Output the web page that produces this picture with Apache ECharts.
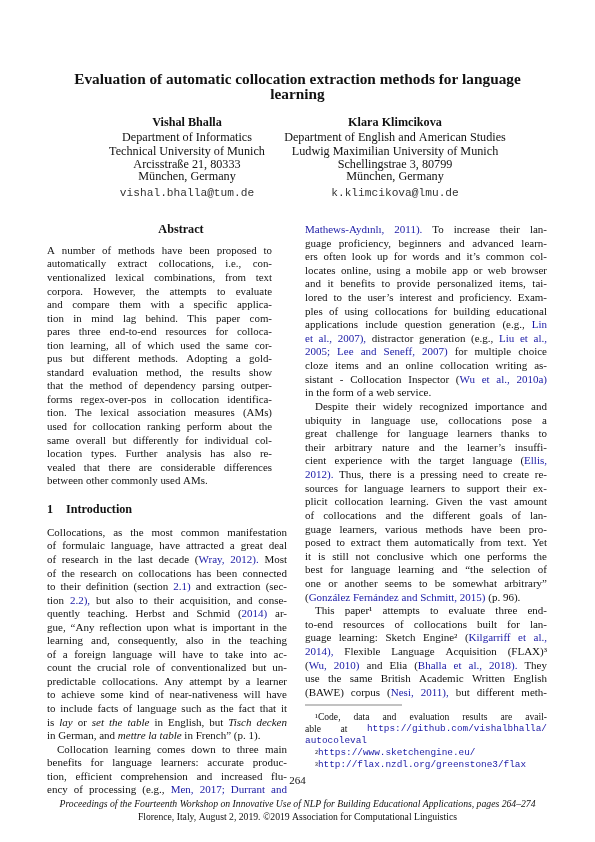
<!DOCTYPE html>
<html><head><meta charset="utf-8">
<script src="https://cdn.jsdelivr.net/npm/echarts@6/dist/echarts.min.js"></script>
<style>html,body{margin:0;padding:0;background:#fff}#c{width:595px;height:842px}</style>
</head><body><div id="c"></div>
<script>
const titleLines = ["Evaluation of automatic collocation extraction methods for language","learning"];
const author1 = ["Vishal Bhalla","Department of Informatics","Technical University of Munich","Arcisstraße 21, 80333","München, Germany","vishal.bhalla@tum.de"];
const author2 = ["Klara Klimcikova","Department of English and American Studies","Ludwig Maximilian University of Munich","Schellingstrae 3, 80799","München, Germany","k.klimcikova@lmu.de"];
// '|' at end = last line of paragraph; ^word = blue; _word = italic; `word = blue mono
const abstractLines = [
"A number of methods have been proposed to",
"automatically extract collocations, i.e., con-",
"ventionalized lexical combinations, from text",
"corpora. However, the attempts to evaluate",
"and compare them with a specific applica-",
"tion in mind lag behind. This paper com-",
"pares three end-to-end resources for colloca-",
"tion learning, all of which used the same cor-",
"pus but different methods. Adopting a gold-",
"standard evaluation method, the results show",
"that the method of dependency parsing outper-",
"forms regex-over-pos in collocation identifica-",
"tion. The lexical association measures (AMs)",
"used for collocation ranking perform about the",
"same overall but differently for individual col-",
"location types. Further analysis has also re-",
"vealed that there are considerable differences",
"between other commonly used AMs.|"];
const introLines = [
"Collocations, as the most common manifestation",
"of formulaic language, have attracted a great deal",
"of research in the last decade (^Wray, ^2012). Most",
"of the research on collocations has been connected",
"to their definition (section ^2.1) and extraction (sec-",
"tion ^2.2), but also to their acquisition, and conse-",
"quently teaching. Herbst and Schmid (^2014) ar-",
"gue, “Any reflection upon what is important in the",
"learning and, consequently, also in the teaching",
"of a foreign language will have to take into ac-",
"count the crucial role of conventionalized but un-",
"predictable collocations. Any attempt by a learner",
"to achieve some kind of near-nativeness will have",
"to include facts of language such as the fact that it",
"is _lay or _set _the _table in English, but _Tisch _decken",
"in German, and _mettre _la _table in French” (p. 1).|",
">Collocation learning comes down to three main",
"benefits for language learners: accurate produc-",
"tion, efficient comprehension and increased flu-",
"ency of processing (e.g., ^Men, ^2017; ^Durrant ^and"];
const rightLines = [
"^Mathews-Aydınlı, ^2011). To increase their lan-",
"guage proficiency, beginners and advanced learn-",
"ers often look up for words and it’s common col-",
"locates online, using a mobile app or web browser",
"and it benefits to provide personalized items, tai-",
"lored to the user’s interest and proficiency. Exam-",
"ples of using collocations for building educational",
"applications include question generation (e.g., ^Lin",
"^et ^al., ^2007), distractor generation (e.g., ^Liu ^et ^al.,",
"^2005; ^Lee ^and ^Seneff, ^2007) for multiple choice",
"cloze items and an online collocation writing as-",
"sistant - Collocation Inspector (^Wu ^et ^al., ^2010a)",
"in the form of a web service.|",
">Despite their widely recognized importance and",
"ubiquity in language use, collocations pose a",
"great challenge for language learners thanks to",
"their arbitrary nature and the learner’s insuffi-",
"cient experience with the target language (^Ellis,",
"^2012). Thus, there is a pressing need to create re-",
"sources for language learners to support their ex-",
"plicit collocation learning. Given the vast amount",
"of collocations and the different goals of lan-",
"guage learners, various methods have been pro-",
"posed to extract them automatically from text. Yet",
"it is still not conclusive which one performs the",
"best for language learning and “the selection of",
"one or another seems to be somewhat arbitrary”",
"(^González ^Fernández ^and ^Schmitt, ^2015) (p. 96).|",
">This paper¹ attempts to evaluate three end-",
"to-end resources of collocations built for lan-",
"guage learning: Sketch Engine² (^Kilgarriff ^et ^al.,",
"^2014), Flexible Language Acquisition (FLAX)³",
"(^Wu, ^2010) and Elia (^Bhalla ^et ^al., ^2018). They",
"use the same British Academic Written English",
"(BAWE) corpus (^Nesi, ^2011), but different meth-"];
const footLines = [
">¹Code, data and evaluation results are avail-",
"able at `https://github.com/vishalbhalla/",
"`autocoleval|",
">²`https://www.sketchengine.eu/|",
">³`http://flax.nzdl.org/greenstone3/flax|"];
const pageNo = "264";
const footer1 = "Proceedings of the Fourteenth Workshop on Innovative Use of NLP for Building Educational Applications, pages 264–274";
const footer2 = "Florence, Italy, August 2, 2019. ©2019 Association for Computational Linguistics";

const SERIF = "'Liberation Serif','DejaVu Serif',serif";
const MONO = "'Liberation Mono','DejaVu Sans Mono',monospace";
const BLUE = '#1a1aa6';
const cv = document.createElement('canvas').getContext('2d');
const els = [];
function fnt(o){return (o.style||'normal')+' '+(o.weight||'normal')+' '+(o.size||11)+'px '+(o.family||SERIF);}
function txt(s,x,y,o){o=o||{};els.push({type:'text',x:x,y:y,style:{text:s,fill:o.color||'#111',font:fnt(o),textAlign:o.align||'left',textVerticalAlign:'middle'}});}
function meas(s,o){cv.font=fnt(o);return cv.measureText(s).width;}
function para(lines,x0,y0,w,lh,size,msize){
  lines.forEach((raw,i)=>{
    let s=raw,last=false,indent=0;
    if(s.endsWith('|')){last=true;s=s.slice(0,-1);}
    if(s.startsWith('>')){indent=10;s=s.slice(1);}
    const words=s.split(' ').map(t=>{
      const parts=[];let pre='';
      const m=t.search(/[\^_`]/);
      if(m>0){pre=t.slice(0,m);t=t.slice(m);}
      if(pre)parts.push({t:pre,o:{size:size}});
      let o={size:size};
      if(t[0]==='^'){o.color=BLUE;t=t.slice(1);}
      else if(t[0]==='_'){o.style='italic';t=t.slice(1);}
      else if(t[0]==='`'){o.color=BLUE;o.family=MONO;o.size=msize||size*0.92;t=t.slice(1);}
      parts.push({t:t,o:o});
      return parts;});
    const widths=words.map(p=>p.reduce((a,q)=>a+meas(q.t,q.o),0));
    const sp=meas(' ',{size:size});
    const total=widths.reduce((a,b)=>a+b,0);
    const avail=w-indent;
    let gap=(last||words.length<2)?sp:(avail-total)/(words.length-1);
    if(gap<1.2)gap=1.2;
    let x=x0+indent;const y=y0+i*lh;
    words.forEach((p,j)=>{let xx=x;p.forEach(q=>{txt(q.t,xx,y,q.o);xx+=meas(q.t,q.o);});x+=widths[j]+gap;});
  });
}
txt(titleLines[0],297.5,80,{size:15.3,weight:'bold',align:'center'});
txt(titleLines[1],297.5,95,{size:15.3,weight:'bold',align:'center'});
const ay=[123,138,152,165,177,193];
[[author1,187],[author2,395]].forEach(([arr,cx])=>arr.forEach((s,i)=>txt(s,cx,ay[i],{size:i===5?11.2:12.2,weight:i===0?'bold':'normal',align:'center',family:i===5?MONO:SERIF,color:i===5?'#333':'#111'})));
txt('Abstract',181,230,{size:12.2,weight:'bold',align:'center'});
para(abstractLines,47,251,225,13.55,10.9);
txt('1',47,510,{size:12.2,weight:'bold'});txt('Introduction',66,510,{size:12.2,weight:'bold'});
para(introLines,47,533,240,13.55,11);
para(rightLines,305,230,242,13.62,11);
els.push({type:'line',shape:{x1:305,y1:705,x2:402,y2:705},style:{stroke:'#333',lineWidth:0.6}});
para(footLines.slice(0,3),305,717,242,12,9.6,9.4);
para(footLines.slice(3),305,753,242,12,9.6,9.4);
txt(pageNo,297.5,781,{size:11,align:'center'});
txt(footer1,297.5,804,{size:9.7,style:'italic',align:'center'});
txt(footer2,297.5,817,{size:9.7,align:'center'});
const chart=echarts.init(document.getElementById('c'),null,{renderer:'canvas'});
chart.setOption({backgroundColor:'#fff',animation:false,graphic:{elements:els}});
</script></body></html>
